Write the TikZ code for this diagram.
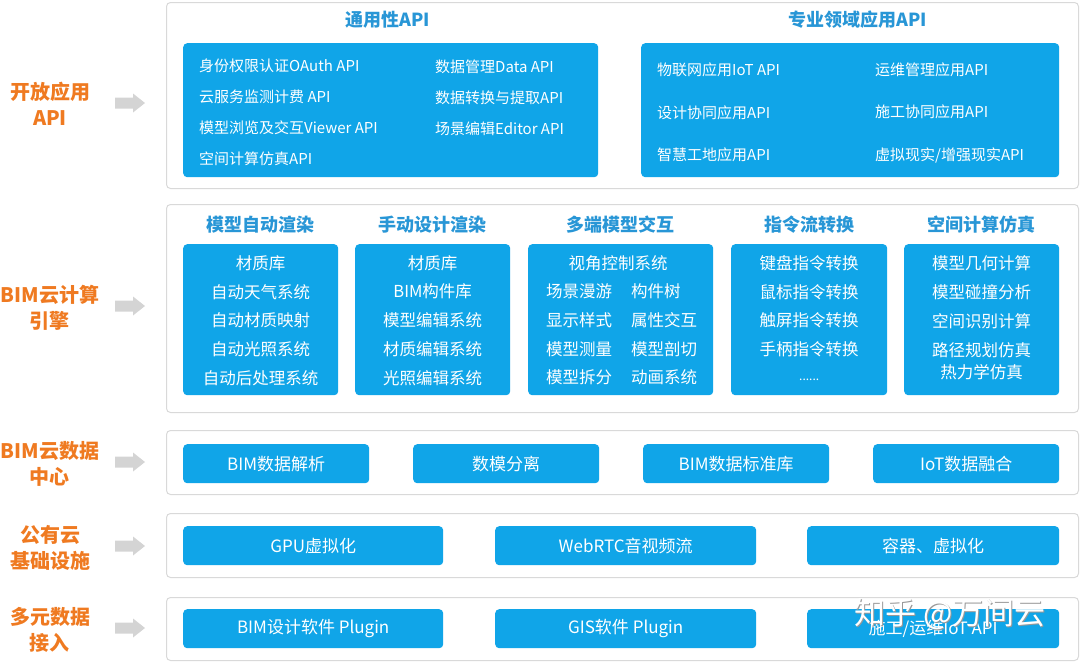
\documentclass[tikz,border=0pt]{standalone}
\usepackage{fontspec}
\setmainfont{Noto Sans CJK SC}
\usepackage{xcolor}
\usetikzlibrary{positioning}
\definecolor{layerline}{HTML}{D9D9D9}
\definecolor{boxblue}{HTML}{10A5E8}
\definecolor{titleblue}{HTML}{2896D6}
\definecolor{labelorange}{HTML}{EF7A21}
\definecolor{arrowgray}{HTML}{D4D4D4}

\begin{document}
\begin{tikzpicture}[x=1pt, y=-1pt,
  layer/.style={draw=layerline, line width=1pt, rounded corners=4pt,
    fill=white, inner sep=0pt, anchor=north west},
  bluebox/.style={fill=boxblue, rounded corners=4pt, inner sep=0pt,
    anchor=north west, text=white, font=\fontsize{17}{20}\selectfont},
  title/.style={text=titleblue, font=\fontsize{18}{22}\selectfont\bfseries},
  item/.style={text=white, inner sep=0pt, font=\fontsize{15}{31}\selectfont},
  engitem/.style={text=white, inner sep=0pt, align=center,
    font=\fontsize{16.5}{28.75}\selectfont},
  sidelabel/.style={text=labelorange, align=center,
    font=\fontsize{20}{26}\selectfont\bfseries}]
  \useasboundingbox (0,0) rectangle (1080,662);

  % Side labels and arrows
  \node[sidelabel] (apilabel) at (50,104) {开放应用\\API};
  \node[sidelabel] (enginelabel) at (50,308) {BIM云计算\\引擎};
  \node[sidelabel] (datalabel) at (50,464) {BIM云数据\\中心};
  \node[sidelabel] (cloudlabel) at (50,548) {公有云\\基础设施};
  \node[sidelabel] (inputlabel) at (50,630) {多元数据\\接入};
  \foreach \y in {103,306,462,546,628}
    \fill[arrowgray] (115,\y) ++(0,-5.5) -- ++(18,0) -- ++(0,-4) -- ++(12,9.5)
      -- ++(-12,9.5) -- ++(0,-4) -- ++(-18,0) -- cycle;

  % Open API layer
  \node[layer, minimum width=912pt, minimum height=186pt] (apilayer) at (166,2) {};
  \node[title] (gentitle) at (388,20) {通用性API};
  \node[title] (protitle) at (858,20) {专业领域应用API};
  \node[bluebox, minimum width=415pt, minimum height=134pt] (genbox) at (183,43) {};
  \node[bluebox, minimum width=418pt, minimum height=134pt] (probox) at (641,43) {};
  \node[item, anchor=west, align=left] (genleft) at (199,112.5)
    {身份权限认证OAuth API\\云服务监测计费 API\\模型浏览及交互Viewer API\\空间计算仿真API};
  \node[item, anchor=west, align=left] (genright) at (435,98)
    {数据管理Data API\\数据转换与提取API\\场景编辑Editor API};
  \node[item, anchor=west, align=left, font=\fontsize{15}{42.5}\selectfont]
    (proleft) at (657,112.5) {物联网应用IoT API\\设计协同应用API\\智慧工地应用API};
  \node[item, anchor=west, align=left, font=\fontsize{15}{42.5}\selectfont]
    (proright) at (875,112.5) {运维管理应用API\\施工协同应用API\\虚拟现实/增强现实API};

  % Cloud engine layer
  \node[layer, minimum width=912pt, minimum height=208pt] (enginelayer) at (166,204) {};
  \node[bluebox, minimum width=155pt, minimum height=151pt] (autobox) at (183,244) {};
  \node[bluebox, minimum width=155pt, minimum height=151pt] (manualbox) at (355,244) {};
  \node[bluebox, minimum width=185pt, minimum height=151pt] (interbox) at (528,244) {};
  \node[bluebox, minimum width=156pt, minimum height=151pt] (cmdbox) at (731,244) {};
  \node[bluebox, minimum width=155pt, minimum height=151pt] (simbox) at (904,244) {};
  \node[title] (autotitle) at (autobox.north |- 0,225) {模型自动渲染};
  \node[title] (manualtitle) at (manualbox.north |- 0,225) {手动设计渲染};
  \node[title] (intertitle) at (interbox.north |- 0,225) {多端模型交互};
  \node[title] (cmdtitle) at (cmdbox.north |- 0,225) {指令流转换};
  \node[title] (simtitle) at (simbox.north |- 0,225) {空间计算仿真};
  \node[engitem] (autoitems) at (autobox.north |- 0,320.5)
    {材质库\\自动天气系统\\自动材质映射\\自动光照系统\\自动后处理系统};
  \node[engitem] (manualitems) at (manualbox.north |- 0,320.5)
    {材质库\\BIM构件库\\模型编辑系统\\材质编辑系统\\光照编辑系统};
  \node[engitem] (viewitem) at (618,263) {视角控制系统};
  \node[engitem, anchor=west, align=left] (interleft) at (546,334.5)
    {场景漫游\\显示样式\\模型测量\\模型拆分};
  \node[engitem, anchor=west, align=left] (interright) at (631,334.5)
    {构件树\\属性交互\\模型剖切\\动画系统};
  \node[engitem] (cmditems) at (cmdbox.north |- 0,318)
    {键盘指令转换\\鼠标指令转换\\触屏指令转换\\手柄指令转换\\[-4pt]{\fontsize{12}{12}\selectfont ......}};
  \node[engitem] (simitems) at (simbox.north |- 0,318)
    {模型几何计算\\模型碰撞分析\\空间识别计算\\路径规划仿真\\[-6pt]热力学仿真};

  % Data center layer
  \node[layer, minimum width=912pt, minimum height=64pt] (datalayer) at (166,430) {};
  \node[bluebox, minimum width=186pt, minimum height=39pt] (parsebox) at (183,444) {BIM数据解析};
  \node[bluebox, minimum width=186pt, minimum height=39pt] (splitbox) at (413,444) {数模分离};
  \node[bluebox, minimum width=186pt, minimum height=39pt] (stdbox) at (643,444) {BIM数据标准库};
  \node[bluebox, minimum width=186pt, minimum height=39pt] (iotbox) at (873,444) {IoT数据融合};

  % Public cloud layer
  \node[layer, minimum width=912pt, minimum height=64pt] (cloudlayer) at (166,513) {};
  \node[bluebox, minimum width=260pt, minimum height=39pt] (gpubox) at (183,526) {GPU虚拟化};
  \node[bluebox, minimum width=261pt, minimum height=39pt] (rtcbox) at (495,526) {WebRTC音视频流};
  \node[bluebox, minimum width=252pt, minimum height=39pt] (vmbox) at (807,526) {容器、虚拟化};

  % Data input layer
  \node[layer, minimum width=912pt, minimum height=63pt] (inputlayer) at (166,597) {};
  \node[bluebox, minimum width=260pt, minimum height=39pt] (bimbox) at (183,609) {BIM设计软件 Plugin};
  \node[bluebox, minimum width=261pt, minimum height=39pt] (gisbox) at (495,609) {GIS软件 Plugin};
  \node[bluebox, minimum width=252pt, minimum height=39pt] (opsbox) at (807,609) {施工/运维IoT API};

  % Watermark
  \node[text=black!40, font=\fontsize{31}{34}\selectfont] (wmshadow) at (951,615) {知乎 @万间云};
  \node[text=white, font=\fontsize{31}{34}\selectfont] (wm) at (950,614) {知乎 @万间云};
\end{tikzpicture}
\end{document}
